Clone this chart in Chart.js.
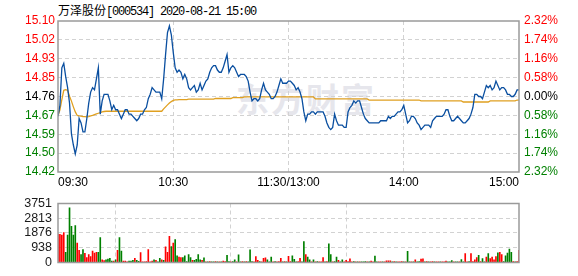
<!DOCTYPE html>
<html><head><meta charset="utf-8">
<script src="https://cdn.jsdelivr.net/npm/chart.js@4"></script>
<style>
html,body{margin:0;padding:0;background:#fff;width:578px;height:276px;overflow:hidden;}
#title{position:absolute;left:58px;top:2px;font-size:12px;line-height:16px;color:#000;white-space:nowrap;}
#title .cn{font-family:"Noto Sans CJK SC";}
#title .mono{font-family:"Liberation Mono";letter-spacing:-1.2px;}
#wm{position:absolute;left:236px;top:74px;font-family:"Noto Sans CJK SC";font-weight:bold;font-size:33px;letter-spacing:2px;color:#e6e6ec;white-space:nowrap;}
#c1{position:absolute;left:0;top:0;}
#c2{position:absolute;left:0;top:190px;}
</style></head><body>
<div id="title"><span class="cn">万泽股份</span><span class="mono">[000534] 2020-08-21 15:00</span></div>
<div id="wm">东方财富</div>
<canvas id="c1" width="578" height="192"></canvas>
<canvas id="c2" width="578" height="86"></canvas>
<script>
const prevClose = 14.76;
const pctLevels = [2.32,1.74,1.16,0.58,0,-0.58,-1.16,-1.74,-2.32];
const priceTickLabels = ['15.10','15.02','14.93','14.85','14.76','14.67','14.59','14.50','14.42'];
const pctTickLabels = ['2.32%','1.74%','1.16%','0.58%','0.00%','0.58%','1.16%','1.74%','2.32%'];
const timeTickMinutes = [0,60,120,180,240];
const timeTickLabels = ['09:30','10:30','11:30/13:00','14:00','15:00'];
const volTicks = [0,938,1876,2813,3751];

const price = [
14.67,14.72,14.89,14.91,14.85,14.80,14.73,14.59,14.54,14.50,
14.54,14.66,14.64,14.60,14.60,14.66,14.73,14.78,14.80,14.79,
14.84,14.89,14.68,14.74,14.77,14.77,14.77,14.74,14.70,14.72,
14.70,14.70,14.68,14.66,14.68,14.70,14.70,14.68,14.68,14.67,
14.66,14.65,14.66,14.68,14.68,14.70,14.71,14.75,14.77,14.80,
14.79,14.78,14.78,14.78,14.75,14.84,14.95,15.05,15.08,15.04,
14.96,14.89,14.87,14.88,14.87,14.84,14.86,14.84,14.80,14.79,
14.80,14.81,14.78,14.79,14.82,14.79,14.81,14.83,14.84,14.87,
14.89,14.90,14.90,14.88,14.87,14.87,14.89,14.92,14.95,14.87,
14.89,14.90,14.89,14.87,14.85,14.86,14.86,14.86,14.85,14.83,
14.78,14.74,14.75,14.75,14.74,14.75,14.79,14.82,14.79,14.78,
14.77,14.75,14.75,14.76,14.78,14.81,14.84,14.82,14.82,14.82,
14.83,14.83,14.82,14.81,14.79,14.80,14.78,14.75,14.69,14.65,
14.68,14.68,14.69,14.69,14.68,14.69,14.69,14.69,14.69,14.67,
14.64,14.62,14.61,14.62,14.68,14.65,14.63,14.63,14.63,14.62,
14.62,14.69,14.71,14.72,14.74,14.73,14.74,14.74,14.71,14.68,
14.66,14.65,14.64,14.64,14.64,14.64,14.64,14.64,14.65,14.65,
14.65,14.65,14.67,14.66,14.67,14.67,14.68,14.69,14.69,14.70,
14.72,14.68,14.64,14.65,14.67,14.67,14.66,14.64,14.63,14.61,
14.62,14.63,14.63,14.63,14.62,14.65,14.66,14.67,14.67,14.67,
14.67,14.68,14.70,14.70,14.67,14.65,14.65,14.66,14.67,14.66,
14.65,14.64,14.64,14.65,14.66,14.68,14.71,14.77,14.77,14.76,
14.76,14.75,14.78,14.81,14.80,14.81,14.79,14.80,14.83,14.81,
14.79,14.80,14.80,14.79,14.77,14.77,14.76,14.76,14.77,14.79,
14.79];

const avgPrice = [
14.672,14.700,14.746,14.788,14.791,14.788,14.761,14.739,14.713,14.690,
14.674,14.672,14.671,14.669,14.669,14.668,14.669,14.672,14.674,14.678,
14.681,14.684,14.687,14.690,14.692,14.693,14.693,14.693,14.693,14.693,
14.693,14.693,14.693,14.693,14.693,14.693,14.693,14.693,14.693,14.693,
14.693,14.693,14.693,14.693,14.693,14.693,14.693,14.693,14.693,14.693,
14.693,14.693,14.693,14.693,14.693,14.704,14.713,14.722,14.730,14.737,
14.742,14.745,14.745,14.746,14.746,14.746,14.746,14.746,14.748,14.748,
14.748,14.748,14.748,14.748,14.748,14.748,14.748,14.748,14.748,14.748,
14.748,14.748,14.751,14.751,14.751,14.751,14.751,14.751,14.751,14.751,
14.751,14.755,14.755,14.755,14.755,14.755,14.755,14.758,14.758,14.758,
14.758,14.758,14.758,14.758,14.758,14.758,14.758,14.758,14.758,14.758,
14.758,14.758,14.758,14.758,14.758,14.758,14.758,14.758,14.758,14.758,
14.758,14.758,14.758,14.758,14.758,14.758,14.758,14.758,14.758,14.758,
14.758,14.758,14.758,14.758,14.749,14.749,14.749,14.749,14.749,14.749,
14.749,14.749,14.749,14.749,14.749,14.749,14.749,14.749,14.749,14.749,
14.749,14.749,14.749,14.749,14.749,14.749,14.749,14.749,14.749,14.749,
14.749,14.749,14.744,14.744,14.744,14.744,14.744,14.744,14.744,14.744,
14.744,14.744,14.744,14.744,14.744,14.744,14.744,14.744,14.744,14.744,
14.744,14.744,14.744,14.744,14.744,14.744,14.744,14.744,14.744,14.740,
14.740,14.740,14.740,14.740,14.740,14.740,14.740,14.740,14.740,14.740,
14.740,14.740,14.740,14.740,14.740,14.740,14.740,14.740,14.740,14.740,
14.740,14.735,14.735,14.735,14.735,14.735,14.735,14.735,14.735,14.735,
14.735,14.735,14.735,14.735,14.735,14.740,14.740,14.740,14.740,14.740,
14.740,14.740,14.740,14.740,14.740,14.740,14.740,14.740,14.740,14.744,
14.744];

const volume = [
1800,1790,1740,1910,650,1740,3480,2300,1740,2350,
1230,770,510,820,580,310,510,380,720,600,
650,650,1590,170,120,170,220,260,90,90,
170,770,1590,720,90,90,50,90,90,140,
260,140,70,630,50,50,60,820,50,90,
170,140,50,260,170,140,990,650,1670,1020,
1230,1450,430,340,310,310,430,60,510,310,
140,140,200,510,170,140,290,50,50,60,
50,50,60,50,40,50,90,60,460,60,
50,60,170,50,480,50,60,50,60,50,
800,60,50,375,140,60,50,260,290,170,
50,340,50,60,50,60,260,50,60,50,
390,60,425,205,50,60,260,50,1330,510,
340,170,50,170,50,60,50,40,310,50,
60,1180,510,50,60,340,140,50,170,50,
140,60,240,50,60,50,40,50,40,50,
60,40,50,90,50,410,50,40,50,40,
50,100,100,100,50,60,50,40,50,60,
40,50,716,50,40,50,170,50,60,220,
240,50,60,40,50,60,40,50,40,50,
50,40,90,50,40,120,50,40,50,40,
190,50,560,50,60,560,60,170,307,460,
60,255,50,340,560,255,340,170,375,614,
650,510,60,425,600,850,650,60,50,60,
770];

// 1 = up (red), -1 = down (green)
const volDir = [
1,1,1,1,-1,-1,-1,-1,-1,-1,
1,1,-1,-1,1,1,1,1,1,1,
1,-1,-1,1,1,-1,-1,-1,-1,1,
-1,1,-1,-1,1,1,1,-1,-1,-1,
1,-1,-1,1,1,1,1,1,1,1,
-1,1,-1,-1,1,-1,1,1,1,-1,
1,-1,-1,1,1,-1,-1,-1,-1,-1,
1,-1,-1,-1,-1,1,-1,1,-1,1,
-1,-1,1,-1,1,-1,1,1,-1,-1,
1,-1,-1,1,-1,-1,1,-1,1,-1,
-1,-1,1,1,1,-1,1,1,1,-1,
-1,-1,1,-1,1,1,1,-1,1,-1,
1,1,-1,-1,-1,1,1,-1,-1,1,
-1,-1,1,-1,1,-1,1,1,1,-1,
1,-1,-1,1,-1,-1,1,-1,-1,1,
1,1,1,1,-1,1,-1,1,-1,-1,
-1,1,-1,1,1,-1,-1,1,1,-1,
1,1,1,1,-1,1,-1,1,1,1,
-1,1,-1,-1,1,-1,1,-1,-1,1,
1,-1,1,-1,1,1,-1,1,1,-1,
1,1,1,-1,-1,-1,1,-1,-1,1,
-1,-1,1,1,-1,1,1,1,1,-1,
1,-1,-1,1,-1,1,1,1,1,-1,
1,1,-1,-1,-1,-1,-1,1,-1,1,
1];

const RED = '#ff0000', GREEN = '#008000', BLACK = '#000000';
const GRID = '#d2d2d2';
const FONT = {family: '"Liberation Sans", Arial, sans-serif', size: 12};

const framePlugin = {
  id: 'frame',
  afterDatasetsDraw(chart) {
    const {ctx, chartArea: a} = chart;
    ctx.save();
    ctx.strokeStyle = '#9a9a9a';
    ctx.lineWidth = 1.5;
    ctx.strokeRect(a.left, a.top, a.right - a.left, a.bottom - a.top);
    ctx.restore();
  }
};

function setTicks(values) {
  return scale => { scale.ticks = values.map(v => ({value: v})); };
}

const priceTickValues = pctLevels.map(p => prevClose * (1 + p / 100));
const pMin = prevClose * (1 - 0.0232), pMax = prevClose * (1 + 0.0232);

function colorFor(v, ref) {
  if (v > ref + 1e-9) return RED;
  if (v < ref - 1e-9) return GREEN;
  return BLACK;
}

new Chart(document.getElementById('c1'), {
  type: 'line',
  data: {
    datasets: [
      {data: price.map((p, i) => ({x: i, y: p})), borderColor: '#0a4fa0', borderWidth: 1.3, pointRadius: 0, tension: 0, order: 1},
      {data: avgPrice.map((p, i) => ({x: i, y: p})), borderColor: '#e0a020', borderWidth: 1.3, pointRadius: 0, tension: 0, order: 2}
    ]
  },
  plugins: [framePlugin],
  options: {
    responsive: false, animation: false, events: [],
    layout: {padding: {top: 21, left: 0, right: 0, bottom: 0}},
    plugins: {legend: {display: false}, tooltip: {enabled: false}},
    scales: {
      x: {
        type: 'linear', min: 0, max: 240,
        afterBuildTicks: setTicks(timeTickMinutes),
        afterFit: s => { s.height = 20; },
        ticks: {
          font: FONT, color: BLACK, align: 'inner', maxRotation: 0, autoSkip: false, padding: 3,
          callback: v => timeTickLabels[timeTickMinutes.indexOf(v)]
        },
        grid: {drawTicks: false, color: c => (c.tick && (c.tick.value === 0 || c.tick.value === 240)) ? 'rgba(0,0,0,0)' : GRID, lineWidth: 1},
        border: {display: false, dash: [4, 3]}
      },
      y: {
        type: 'linear', position: 'left', min: pMin, max: pMax,
        afterBuildTicks: setTicks(priceTickValues.slice().reverse()),
        afterFit: s => { s.width = 58; },
        ticks: {
          font: FONT, padding: 3, autoSkip: false,
          color: c => colorFor(c.tick.value, prevClose),
          callback: (v, i) => priceTickLabels[priceTickLabels.length - 1 - i]
        },
        grid: {drawTicks: false, color: c => (c.index === 0 || c.index === pctLevels.length - 1) ? 'rgba(0,0,0,0)' : GRID, lineWidth: 1},
        border: {display: false, dash: [4, 3]}
      },
      yPct: {
        type: 'linear', position: 'right', min: -2.32, max: 2.32,
        afterBuildTicks: setTicks(pctLevels.slice().reverse()),
        afterFit: s => { s.width = 59; },
        ticks: {
          font: FONT, padding: 5, autoSkip: false,
          color: c => colorFor(c.tick.value, 0),
          callback: (v, i) => pctTickLabels[pctTickLabels.length - 1 - i]
        },
        grid: {display: false, drawTicks: false},
        border: {display: false}
      }
    }
  }
});

new Chart(document.getElementById('c2'), {
  type: 'bar',
  data: {
    datasets: [{
      data: volume.map((v, i) => ({x: i, y: v})),
      backgroundColor: volDir.map(d => d > 0 ? RED : GREEN),
      barThickness: 1, grouped: false, borderWidth: 0
    }]
  },
  plugins: [framePlugin],
  options: {
    responsive: false, animation: false, events: [],
    layout: {padding: {top: 7, left: 0, right: 59, bottom: 6}},
    plugins: {legend: {display: false}, tooltip: {enabled: false}},
    scales: {
      x: {
        type: 'linear', min: 0, max: 240, offset: false,
        afterBuildTicks: setTicks(timeTickMinutes),
        ticks: {display: false},
        afterFit: s => { s.height = 0; },
        grid: {drawTicks: false, color: c => (c.tick && (c.tick.value === 0 || c.tick.value === 240)) ? 'rgba(0,0,0,0)' : GRID, lineWidth: 1},
        border: {display: false, dash: [4, 3]}
      },
      y: {
        type: 'linear', min: 0, max: 3751,
        afterBuildTicks: setTicks(volTicks),
        afterFit: s => { s.width = 58; },
        ticks: {font: {family: FONT.family, size: 12.5}, color: '#1a1a1a', padding: 6, autoSkip: false, callback: v => String(v)},
        grid: {drawTicks: false, color: c => (c.index === 0 || c.index === volTicks.length - 1) ? 'rgba(0,0,0,0)' : GRID, lineWidth: 1},
        border: {display: false, dash: [4, 3]}
      }
    }
  }
});
</script>
</body></html>
